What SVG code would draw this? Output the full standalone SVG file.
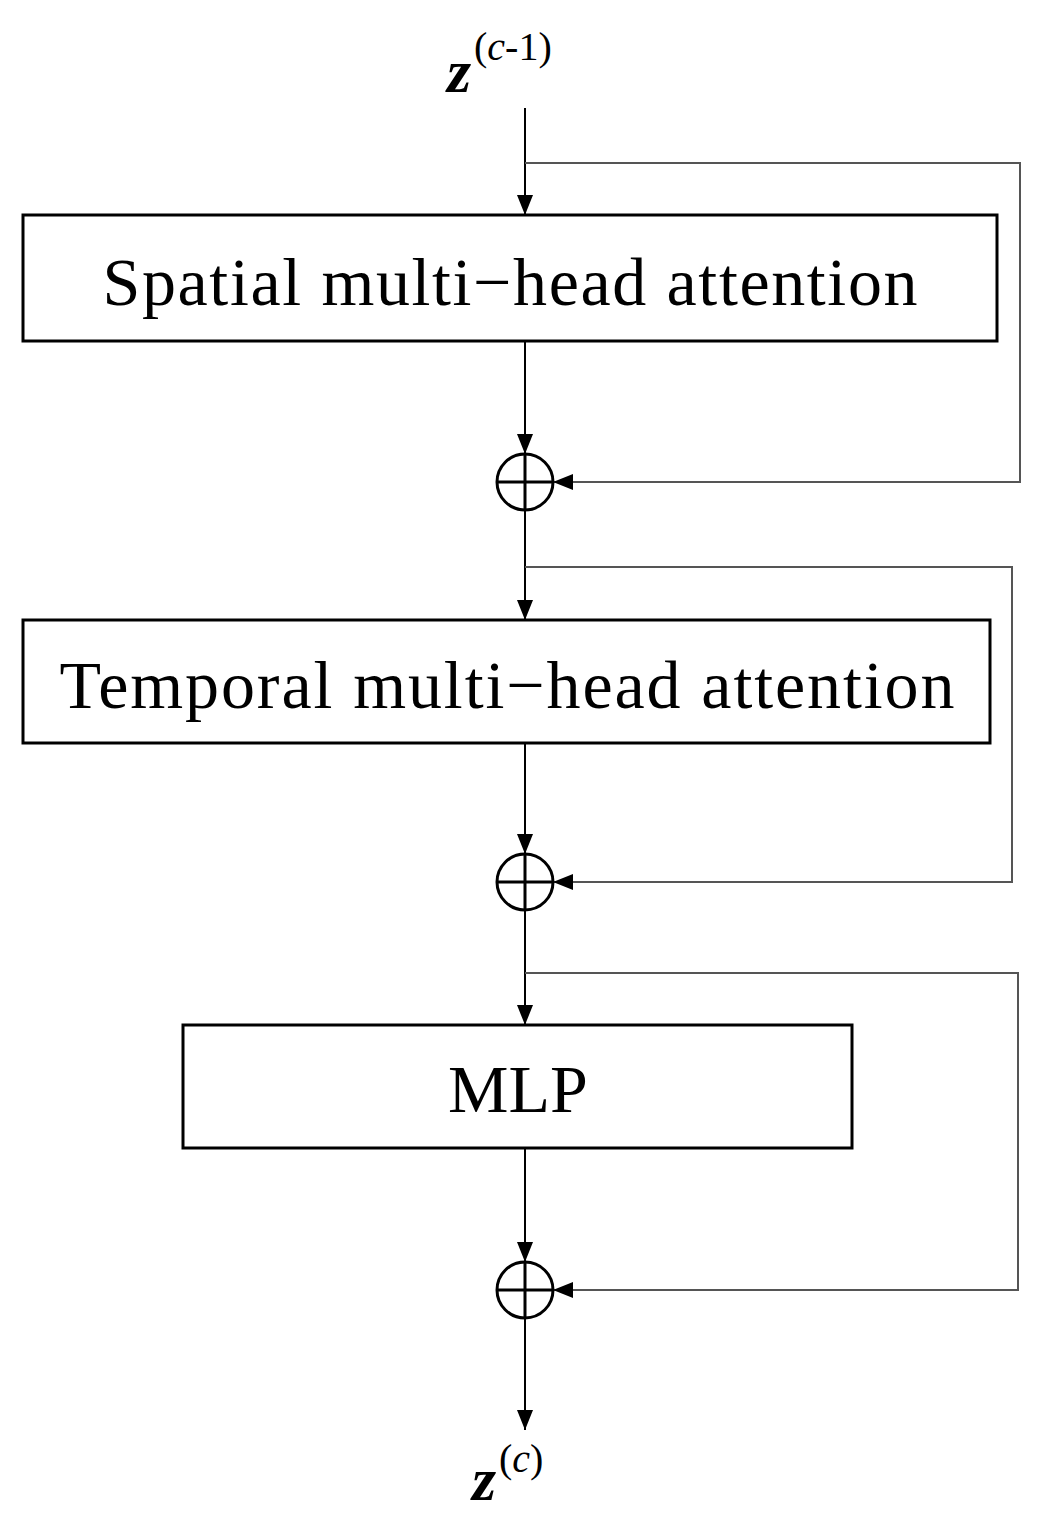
<svg xmlns="http://www.w3.org/2000/svg" width="1040" height="1528" viewBox="0 0 1040 1528">
<style>
.box{fill:#fff;stroke:#000;stroke-width:3}
.ln{stroke:#000;stroke-width:2;fill:none}
.pl{stroke:#000;stroke-width:3;fill:none}
.sk{stroke:#555;stroke-width:2;fill:none}
.t{font-family:"Liberation Serif",serif;font-size:68px;text-anchor:middle}
.z{font-family:"Liberation Serif",serif;font-style:italic;font-weight:bold;font-size:62px}
.s{font-family:"Liberation Serif",serif;font-size:40px}
</style>
<defs><marker id="b" markerWidth="20" markerHeight="16" refX="20" refY="8" orient="auto" markerUnits="userSpaceOnUse"><path d="M0,0L20,8L0,16z" fill="#000"/></marker></defs>
<g id="zin"><text class="z" x="447" y="92">z</text><text class="s" x="474" y="60">(<tspan font-style="italic">c</tspan>-1)</text></g>
<g id="connectors">
<path class="ln" d="M525,108V215" marker-end="url(#b)"/>
<path class="ln" d="M525,341V454" marker-end="url(#b)"/>
<path class="ln" d="M525,510V620" marker-end="url(#b)"/>
<path class="ln" d="M525,743V854" marker-end="url(#b)"/>
<path class="ln" d="M525,910V1025" marker-end="url(#b)"/>
<path class="ln" d="M525,1148V1262" marker-end="url(#b)"/>
<path class="ln" d="M525,1318V1430" marker-end="url(#b)"/>
<path class="sk" d="M525,163H1020V482H553" marker-end="url(#b)"/>
<path class="sk" d="M525,567H1012V882H553" marker-end="url(#b)"/>
<path class="sk" d="M525,973H1018V1290H553" marker-end="url(#b)"/>
</g>
<g id="n1"><rect class="box" x="23" y="215" width="974" height="126"/><text class="t" x="510" y="305" textLength="815" lengthAdjust="spacing">Spatial multi−head attention</text></g>
<g id="p1"><circle class="pl" cx="525" cy="482" r="28"/><path class="pl" d="M497,482H553M525,454V510"/></g>
<g id="n2"><rect class="box" x="23" y="620" width="967" height="123"/><text class="t" x="507" y="708" textLength="895" lengthAdjust="spacing">Temporal multi−head attention</text></g>
<g id="p2"><circle class="pl" cx="525" cy="882" r="28"/><path class="pl" d="M497,882H553M525,854V910"/></g>
<g id="n3"><rect class="box" x="183" y="1025" width="669" height="123"/><text class="t" x="518" y="1112">MLP</text></g>
<g id="p3"><circle class="pl" cx="525" cy="1290" r="28"/><path class="pl" d="M497,1290H553M525,1262V1318"/></g>
<g id="zout"><text class="z" x="472" y="1500">z</text><text class="s" x="499" y="1472">(<tspan font-style="italic">c</tspan>)</text></g>
</svg>
